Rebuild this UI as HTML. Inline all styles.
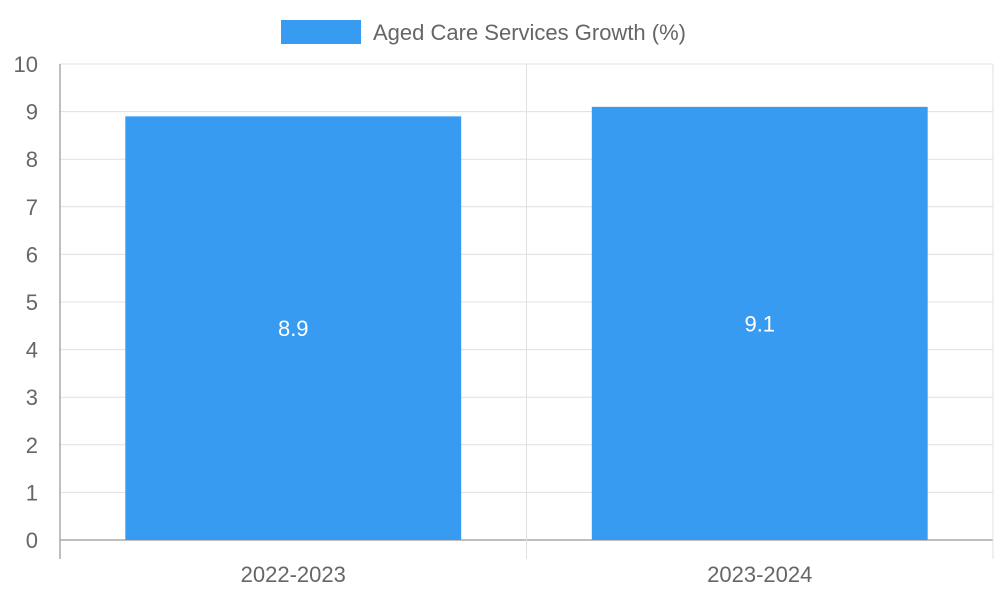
<!DOCTYPE html>
<html><head><meta charset="utf-8"><style>
body{margin:0;background:#fff;font-family:"Liberation Sans",sans-serif}
</style></head><body>
<svg id="chart" width="1000" height="600" xmlns="http://www.w3.org/2000/svg"></svg>
<script>
const categories=["2022-2023","2023-2024"];
const values=[8.9,9.1];
const yTicks=[0,1,2,3,4,5,6,7,8,9,10];
const seriesName="Aged Care Services Growth (%)";
const svg=document.getElementById('chart');
const NS="http://www.w3.org/2000/svg";
const L=60,R=993,T=64,B=540,yMax=10;
const y=v=>B-(v/yMax)*(B-T);
const cw=(R-L)/categories.length;
const x=i=>L+cw*i;
function mk(tag,attrs,text){const e=document.createElementNS(NS,tag);for(const k in attrs)e.setAttribute(k,attrs[k]);if(text!==undefined)e.textContent=text;svg.appendChild(e);return e;}
// legend
let e=mk('rect',{x:281,y:20,width:80,height:24,fill:'#379cf1'});


e=mk('text',{x:373,y:40,'font-size':22,fill:'#666'},seriesName);


// horizontal grid + y labels
yTicks.forEach(t=>{
 e=mk('line',{x1:L-0,x2:R,y1:y(t),y2:y(t),stroke:t===0?'#aaa':'#e0e0e0','stroke-width':t===0?1.5:1});
 
 
 e=mk('text',{x:38,y:y(t)+8,'font-size':22,fill:'#666','text-anchor':'end'},String(t));
 
 
});
// vertical grid
for(let i=0;i<=categories.length;i++){
 e=mk('line',{x1:x(i),x2:x(i),y1:T,y2:B+19,stroke:i===0?'#aaa':'#e0e0e0','stroke-width':i===0?1.5:1});
 
 
}
// bars
const bw=cw*0.72;
categories.forEach((c,i)=>{
 const cx=x(i)+cw/2;
 e=mk('rect',{x:cx-bw/2,y:y(values[i]),width:bw,height:B-y(values[i]),fill:'#379cf1'});
 
 
 e=mk('text',{x:cx,y:(y(values[i])+B)/2+8,'font-size':22,fill:'#fff','text-anchor':'middle'},String(values[i]));
 
 
 e=mk('text',{x:cx,y:582,'font-size':22,fill:'#666','text-anchor':'middle'},c);
 
 
});
</script>
</body></html>
